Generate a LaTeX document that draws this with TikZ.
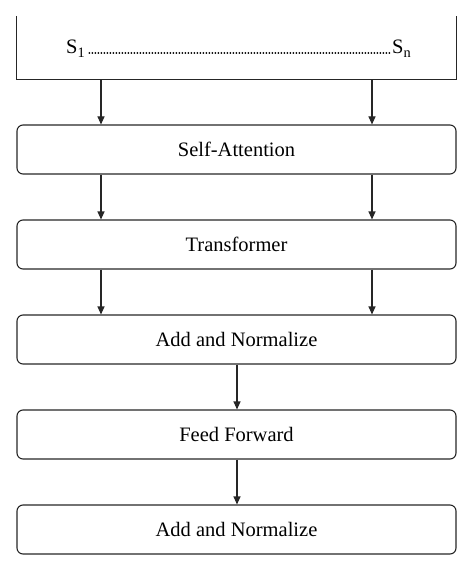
\documentclass[tikz,border=0pt]{standalone}
\usepackage{fontspec}
\setmainfont{Liberation Serif}
\usetikzlibrary{arrows.meta}

\begin{document}
\begin{tikzpicture}[x=1pt,y=-1pt]
\tikzstyle{blok}=[rectangle,draw=black!85,line width=1.1pt,rounded corners=6pt,minimum width=439pt,minimum height=49pt,inner sep=0pt,font=\fontsize{20.5}{24}\selectfont]
\tikzstyle{inbox}=[rectangle,minimum width=439pt,minimum height=63pt,inner sep=0pt]
\tikzstyle{seq}=[rectangle,inner sep=1pt,font=\fontsize{20.5}{24}\selectfont]
\tikzstyle{flow}=[draw=black!85,line width=1.1pt,-{Triangle[length=8pt,width=7pt]}]
\useasboundingbox (0,0) rectangle (474,572);
% input block, open on top
\node [inbox] (inp) at (236.5,47.5) {};
\draw [draw=black!85,line width=1.1pt] (inp.north west) -- (inp.south west) -- (inp.south east) -- (inp.north east);
\node [seq,anchor=base west] (s1) at (65,54) {S\textsubscript{1}};
\node [seq,anchor=base west] (sn) at (391,54) {S\textsubscript{n}};
\draw [line width=2pt,line cap=round,dash pattern=on 0pt off 3pt] ([xshift=3pt,yshift=1pt]s1.base east) -- ([yshift=1pt]sn.base west);
% stack
\node [blok] (att) at (236.5,149.5) {Self-Attention};
\node [blok] (trf) at (236.5,244.5) {Transformer};
\node [blok] (an1) at (236.5,339.5) {Add and Normalize};
\node [blok] (ffw) at (236.5,434.5) {Feed Forward};
\node [blok] (an2) at (236.5,529.5) {Add and Normalize};
\coordinate (l) at (101,0);
\coordinate (r) at (372,0);
\coordinate (m) at (237,0);
\draw [flow] (inp.south -| l) -- (att.north -| l);
\draw [flow] (inp.south -| r) -- (att.north -| r);
\draw [flow] (att.south -| l) -- (trf.north -| l);
\draw [flow] (att.south -| r) -- (trf.north -| r);
\draw [flow] (trf.south -| l) -- (an1.north -| l);
\draw [flow] (trf.south -| r) -- (an1.north -| r);
\draw [flow] (an1.south -| m) -- (ffw.north -| m);
\draw [flow] (ffw.south -| m) -- (an2.north -| m);
\end{tikzpicture}
\end{document}
